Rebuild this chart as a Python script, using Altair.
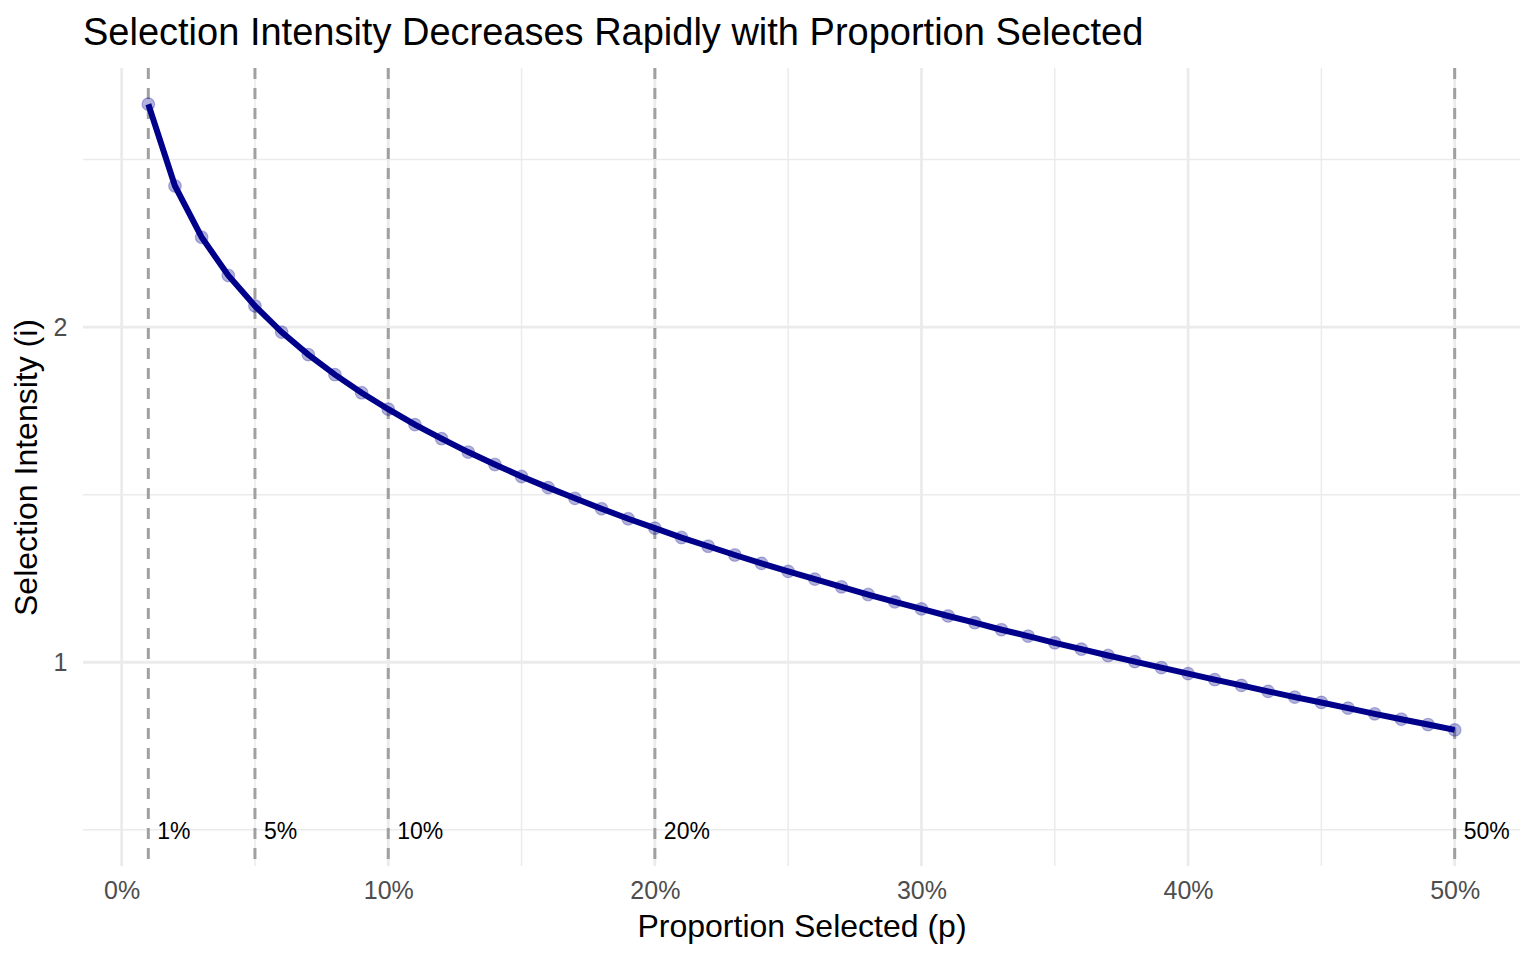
import altair as alt
import pandas as pd

# Proportion selected (p)
p_values = [0.01, 0.02, 0.03, 0.04, 0.05, 0.06, 0.07, 0.08, 0.09, 0.10,
            0.11, 0.12, 0.13, 0.14, 0.15, 0.16, 0.17, 0.18, 0.19, 0.20,
            0.21, 0.22, 0.23, 0.24, 0.25, 0.26, 0.27, 0.28, 0.29, 0.30,
            0.31, 0.32, 0.33, 0.34, 0.35, 0.36, 0.37, 0.38, 0.39, 0.40,
            0.41, 0.42, 0.43, 0.44, 0.45, 0.46, 0.47, 0.48, 0.49, 0.50]
# Selection intensity (i)
intensity = [2.665, 2.421, 2.268, 2.154, 2.063, 1.985, 1.918, 1.858, 1.804, 1.755,
             1.709, 1.667, 1.627, 1.590, 1.554, 1.521, 1.489, 1.458, 1.428, 1.400,
             1.372, 1.346, 1.320, 1.295, 1.271, 1.248, 1.225, 1.202, 1.180, 1.159,
             1.138, 1.118, 1.097, 1.078, 1.058, 1.039, 1.020, 1.002, 0.984, 0.966,
             0.948, 0.931, 0.913, 0.896, 0.880, 0.863, 0.846, 0.830, 0.814, 0.798]

ref_p = [0.01, 0.05, 0.10, 0.20, 0.50]
ref_labels = ["1%", "5%", "10%", "20%", "50%"]
ref_label_y = [0.5, 0.5, 0.5, 0.5, 0.5]

x_major = [0.0, 0.1, 0.2, 0.3, 0.4, 0.5]
x_minor = [0.05, 0.15, 0.25, 0.35, 0.45]
y_major = [1.0, 2.0]
y_minor = [0.5, 1.5, 2.5]

df = pd.DataFrame({"p": p_values, "i": intensity})
ref_df = pd.DataFrame({"p": ref_p, "label": ref_labels, "i": ref_label_y})

FONT = "Liberation Sans"
x_dom = [-0.0145, 0.5245]
y_dom = [0.392, 2.773]

xs = alt.Scale(domain=x_dom, nice=False, zero=False)
ys = alt.Scale(domain=y_dom, nice=False, zero=False)

x_axis = alt.Axis(values=x_major, format=".0%", grid=False, ticks=False, domain=False,
                  labelFontSize=25, labelColor="#4D4D4D", labelPadding=12,
                  title="Proportion Selected (p)", titleFontSize=32, titleFontWeight="normal",
                  titleColor="black", titlePadding=8, labelFont=FONT, titleFont=FONT)
y_axis = alt.Axis(values=y_major, format="d", grid=False, ticks=False, domain=False,
                  labelFontSize=25, labelColor="#4D4D4D", labelPadding=16,
                  title="Selection Intensity (i)", titleFontSize=32, titleFontWeight="normal",
                  titleColor="black", titlePadding=10, labelFont=FONT, titleFont=FONT)

X = lambda: alt.X("p:Q", scale=xs, axis=x_axis)
Y = lambda: alt.Y("i:Q", scale=ys, axis=y_axis)

base = alt.Chart(df)

gx_minor = alt.Chart(pd.DataFrame({"p": x_minor})).mark_rule(color="#EBEBEB", strokeWidth=1.5).encode(x=X())
gx_major = alt.Chart(pd.DataFrame({"p": x_major})).mark_rule(color="#EBEBEB", strokeWidth=2.8).encode(x=X())
gy_minor = alt.Chart(pd.DataFrame({"i": y_minor})).mark_rule(color="#EBEBEB", strokeWidth=1.5).encode(y=Y())
gy_major = alt.Chart(pd.DataFrame({"i": y_major})).mark_rule(color="#EBEBEB", strokeWidth=2.8).encode(y=Y())

vlines = alt.Chart(ref_df).mark_rule(color="#A0A0A0", strokeWidth=3, strokeDash=[11, 9]).encode(x=X())

line = base.mark_line(color="#00008B", strokeWidth=6).encode(x=X(), y=Y())

points = base.mark_circle(fill="#00008B", fillOpacity=0.3, stroke="#00008B", strokeOpacity=0.25,
                          strokeWidth=1.2, size=160).encode(x=X(), y=Y())

labels = alt.Chart(ref_df).mark_text(align="left", baseline="middle", dx=9, dy=2, fontSize=23,
                                     font=FONT, color="black").encode(
    x=X(), y=Y(), text="label:N")

chart = alt.layer(gx_minor, gx_major, gy_minor, gy_major, vlines, line, points, labels).properties(
    width=1437, height=798,
    title=alt.TitleParams("Selection Intensity Decreases Rapidly with Proportion Selected",
                          anchor="start", frame="group", fontSize=38, font=FONT, fontWeight="normal",
                          color="black", offset=14),
    autosize=alt.AutoSizeParams(type="none"),
    padding={"left": 75, "top": 60, "right": 8, "bottom": 80},
    background="white",
).configure_view(strokeWidth=0, stroke=None)

chart.save("out.html", embed_options={"renderer": "svg", "actions": False})
